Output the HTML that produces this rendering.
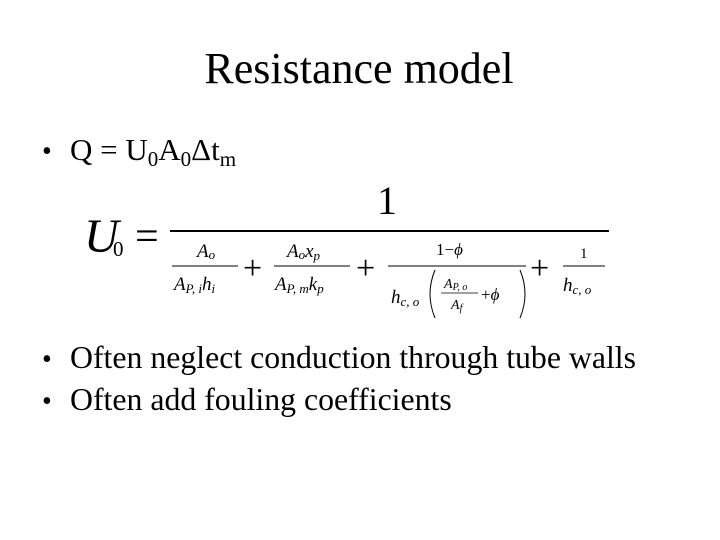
<!DOCTYPE html>
<html><head><meta charset="utf-8"><style>
html,body{margin:0;padding:0;background:#fff;}
svg{display:block}
text{font-family:"Liberation Serif",serif;fill:#000}
.i{font-style:italic}
</style></head><body>
<svg width="720" height="540" viewBox="0 0 720 540" xmlns="http://www.w3.org/2000/svg">
<text x="359" y="83" font-size="44" text-anchor="middle">Resistance model</text>
<text x="42" y="160" font-size="28">•</text>
<text x="70" y="160" font-size="31">Q = U<tspan font-size="21" dy="6">0</tspan><tspan dy="-6">A</tspan><tspan font-size="21" dy="6">0</tspan><tspan dy="-6">Δt</tspan><tspan font-size="21" dy="6">m</tspan></text>

<!-- formula -->
<text x="84" y="252" font-size="48" class="i">U</text>
<text x="113" y="256" font-size="21">0</text>
<text x="135" y="250" font-size="42">=</text>
<text x="377" y="214" font-size="40">1</text>
<line x1="170" y1="231" x2="609" y2="231" stroke="#000" stroke-width="2"/>

<!-- frac 1 -->
<text x="197" y="257" font-size="19" class="i">A<tspan font-size="13" dy="2">o</tspan></text>
<line x1="172" y1="266" x2="238" y2="266" stroke="#000" stroke-width="1"/>
<text x="174" y="290" font-size="19" class="i">A<tspan font-size="13" dy="3">P</tspan><tspan font-size="13">, i</tspan><tspan font-size="19" dy="-3">h</tspan><tspan font-size="13" dy="3">i</tspan></text>
<text x="243" y="279" font-size="34">+</text>

<!-- frac 2 -->
<text x="287" y="257" font-size="19" class="i">A<tspan font-size="13" dy="2">o</tspan><tspan font-size="19" dy="-2">x</tspan><tspan font-size="13" dy="3">p</tspan></text>
<line x1="274" y1="266" x2="350" y2="266" stroke="#000" stroke-width="1"/>
<text x="275" y="290" font-size="19" class="i">A<tspan font-size="13" dy="3">P</tspan><tspan font-size="13">, m</tspan><tspan font-size="19" dy="-3">k</tspan><tspan font-size="13" dy="3">p</tspan></text>
<text x="356" y="279" font-size="34">+</text>

<!-- frac 3 -->
<text x="436" y="255" font-size="17">1−<tspan class="i">ϕ</tspan></text>
<line x1="388" y1="266" x2="526" y2="266" stroke="#000" stroke-width="1"/>
<text x="391" y="303" font-size="19" class="i">h<tspan font-size="13" dy="3">c</tspan><tspan font-size="13">, o</tspan></text>
<path d="M435 270 Q425 294 435 318" fill="none" stroke="#000" stroke-width="1"/>
<path d="M520 270 Q530 294 520 318" fill="none" stroke="#000" stroke-width="1"/>
<text x="444" y="288" font-size="14" class="i">A<tspan font-size="10" dy="2">P</tspan><tspan font-size="10">, o</tspan></text>
<line x1="441" y1="293" x2="478" y2="293" stroke="#000" stroke-width="0.8"/>
<text x="451" y="309" font-size="14" class="i">A<tspan font-size="10" dy="2">f</tspan></text>
<text x="481" y="300" font-size="17">+<tspan class="i">ϕ</tspan></text>
<text x="530" y="279" font-size="34">+</text>

<!-- frac 4 -->
<text x="580" y="258" font-size="15">1</text>
<line x1="563" y1="266" x2="605" y2="266" stroke="#000" stroke-width="1"/>
<text x="563" y="291" font-size="19" class="i">h<tspan font-size="13" dy="3">c</tspan><tspan font-size="13">, o</tspan></text>

<text x="42" y="368" font-size="28">•</text>
<text x="70" y="368" font-size="31.8">Often neglect conduction through tube walls</text>
<text x="42" y="410" font-size="28">•</text>
<text x="70" y="410" font-size="31.8">Often add fouling coefficients</text>
</svg>
</body></html>
